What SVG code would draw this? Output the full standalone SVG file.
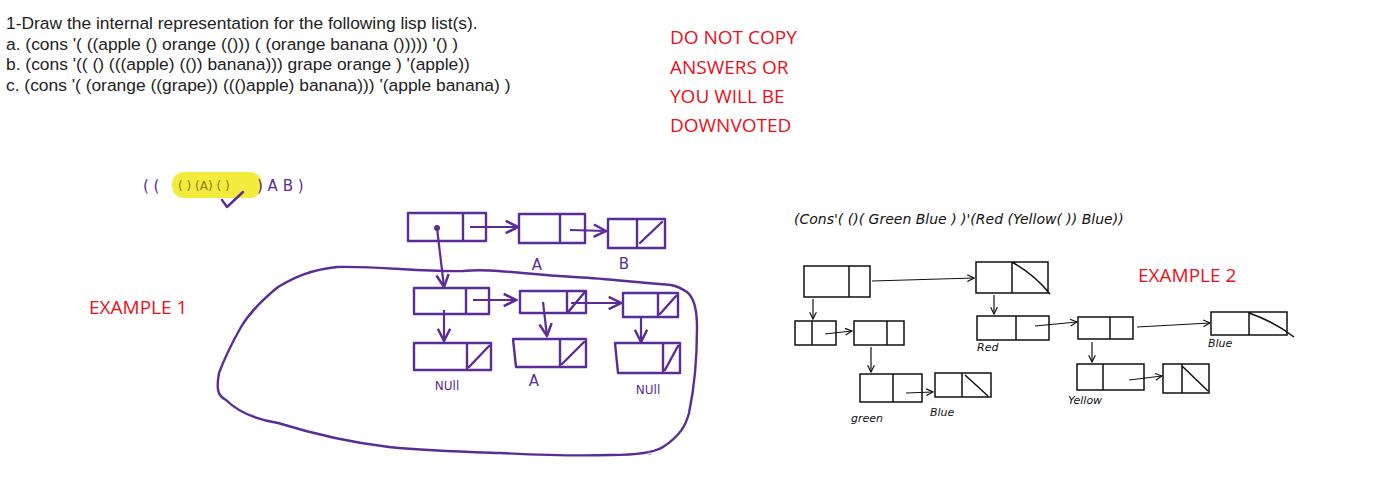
<svg xmlns="http://www.w3.org/2000/svg" width="1395" height="495" viewBox="0 0 1395 495">
<defs>
<marker id="ap" viewBox="0 0 10 10" refX="9" refY="5" markerWidth="7" markerHeight="7" orient="auto-start-reverse"><path d="M1,1 L9,5 L1,9" fill="none" stroke="#5a2d96" stroke-width="1.6"/></marker>
<marker id="ab" viewBox="0 0 10 10" refX="9" refY="5" markerWidth="7" markerHeight="7" orient="auto-start-reverse"><path d="M1,1 L9,5 L1,9" fill="none" stroke="#111" stroke-width="1.4"/></marker>
</defs>
<style>
.q{font-family:"Liberation Sans",Arial,sans-serif;font-size:17.4px;fill:#222}
.r{font-family:"Open Sans","Liberation Sans",sans-serif;font-size:19px;fill:#e8101a}
.p{fill:none;stroke:#5a2d96;stroke-width:2.4;stroke-linecap:round;stroke-linejoin:round}
.pa{fill:none;stroke:#5a2d96;stroke-width:2.2;marker-end:url(#ap)}
.pt{font-family:"DejaVu Sans",sans-serif;font-size:15px;fill:#5a2d96}
.b{fill:none;stroke:#111;stroke-width:1.5}
.ba{fill:none;stroke:#111;stroke-width:1.2;marker-end:url(#ab)}
.bt{font-family:"DejaVu Sans",sans-serif;font-size:11px;fill:#111;font-style:italic}
</style>
<rect width="1395" height="495" fill="#fff"/>
<g id="question">
<text class="q" x="6" y="29">1-Draw the internal representation for the following lisp list(s).</text>
<text class="q" x="6" y="50">a.  (cons '( ((apple () orange (())) ( (orange banana ()))))  '() )</text>
<text class="q" x="6" y="70">b.  (cons '(( () (((apple) (()) banana))) grape orange ) '(apple))</text>
<text class="q" x="6" y="91">c.  (cons '( (orange ((grape)) ((()apple) banana))) '(apple banana) )</text>
</g>
<g id="warning">
<text class="r" x="670" y="44">DO NOT COPY</text>
<text class="r" x="670" y="74">ANSWERS OR</text>
<text class="r" x="670" y="103">YOU WILL BE</text>
<text class="r" x="670" y="132">DOWNVOTED</text>
</g>
<text class="r" x="89" y="314">EXAMPLE 1</text>
<text class="r" x="1138" y="282">EXAMPLE 2</text>
<g id="example1-expr">
<rect x="172" y="172" width="90" height="26" rx="12" fill="#f3ec3c"/>
<text class="pt" x="143" y="191">( (</text>
<text class="pt" x="178" y="190" style="font-size:12px;fill:#8a7a20">( ) (A) ( )</text>
<text class="pt" x="257" y="191">)  A  B  )</text>
<path class="p" d="M222,200 L227,207 L243,192" stroke-width="2"/>
</g>
<g id="ex1-nodes">
<g id="n1"><path class="p" d="M408,213 H486 V241 H408 Z M463,213 V241"/><circle cx="437" cy="228" r="3" fill="#5a2d96"/></g>
<g id="n2"><path class="p" d="M519,214 H585 V243 H519 Z M560,214 V243"/></g>
<g id="n3"><path class="p" d="M608,219 H665 V248 H608 Z M637,219 V248 M640,243 L662,222"/></g>
<g id="n4"><path class="p" d="M414,288 H489 V314 H414 Z M466,288 V314"/></g>
<g id="n5"><path class="p" d="M520,291 H586 V313 H520 Z M567,291 V313 M569,311 L584,293"/></g>
<g id="n6"><path class="p" d="M623,293 H678 V317 H623 Z M658,293 V317 M660,314 L676,296"/></g>
<g id="n7"><path class="p" d="M414,343 H491 V370 H414 Z M467,343 V370 M469,367 L489,346"/></g>
<g id="n8"><path class="p" d="M513,339 H586 V367 H516 Z M560,339 V367 M562,364 L584,342"/></g>
<g id="n9"><path class="p" d="M615,343 H680 V373 H618 Z M663,343 V373 M665,370 L678,346"/></g>
<text class="pt" x="537" y="270" text-anchor="middle">A</text>
<text class="pt" x="624" y="269" text-anchor="middle">B</text>
<text class="pt" x="447" y="390" text-anchor="middle" style="font-size:12px">NUll</text>
<text class="pt" x="534" y="386" text-anchor="middle">A</text>
<text class="pt" x="648" y="394" text-anchor="middle" style="font-size:12px">NUll</text>
<path class="p" d="M671,285 C620,281 600,278 574,277 C520,274 490,268 463,271 C420,272 380,266 337,267 C310,270 295,277 278,287 C262,300 250,312 241,327 C228,350 222,365 219,373 C216,390 218,396 226,400 C240,414 260,420 278,423 C320,436 355,443 389,447 C430,451 470,452 500,453 C540,455 580,456 611,455 C640,455 655,452 663,447 C680,436 686,425 689,413 C695,385 697,350 697,327 C697,305 692,296 687,292 C681,288 676,286 671,285"/>
<text x="648" y="455" font-family="Liberation Sans,sans-serif" font-size="6" fill="#777">5</text>
</g>
<g id="ex1-connectors">
<path class="pa" d="M470,227 L518,227"/>
<path class="pa" d="M570,230 L606,231"/>
<path class="pa" d="M437,228 L444,287"/>
<path class="pa" d="M473,300 L516,300"/>
<path class="pa" d="M571,303 L621,303"/>
<path class="pa" d="M444,310 L444,341"/>
<path class="pa" d="M543,302 L547,336"/>
<path class="pa" d="M641,316 L641,342"/>
</g>
<g id="example2-expr">
<text x="794" y="224" font-family="DejaVu Sans,sans-serif" font-size="14" font-style="italic" fill="#111">(Cons'( ()( Green Blue ) )'(Red (Yellow( )) Blue))</text>
</g>
<g id="ex2-nodes">
<g id="m1"><path class="b" d="M804,266 H870 V297 H804 Z M849,266 V297"/></g>
<g id="m2"><path class="b" d="M976,262 H1048 V293 H976 Z M1012,262 V293 M1012,262 Q1035,275 1050,294"/></g>
<g id="m3"><path class="b" d="M795,321 H836 V345 H795 Z M812,321 V345"/></g>
<g id="m4"><path class="b" d="M854,321 H904 V345 H854 Z M887,321 V345"/></g>
<g id="m5"><path class="b" d="M860,374 H922 V402 H860 Z M893,374 V402"/></g>
<g id="m6"><path class="b" d="M935,373 H991 V397 H935 Z M962,373 V397 M965,375 L988,396"/></g>
<g id="m7"><path class="b" d="M977,316 H1049 V340 H977 Z M1016,316 V340"/></g>
<g id="m8"><path class="b" d="M1078,317 H1133 V339 H1078 Z M1110,317 V339"/></g>
<g id="m9"><path class="b" d="M1211,312 H1287 V335 H1211 Z M1249,312 V335 M1249,313 Q1275,322 1294,337"/></g>
<g id="m10"><path class="b" d="M1077,364 H1144 V390 H1077 Z M1103,364 V390"/></g>
<g id="m11"><path class="b" d="M1163,364 H1209 V393 H1163 Z M1182,364 V393 M1182,366 L1208,391"/></g>
<text class="bt" x="851" y="422">green</text>
<text class="bt" x="930" y="416">Blue</text>
<text class="bt" x="977" y="351">Red</text>
<text class="bt" x="1208" y="347">Blue</text>
<text class="bt" x="1068" y="404">Yellow</text>
</g>
<g id="ex2-connectors">
<path class="ba" d="M872,281 L974,278"/>
<path class="ba" d="M813,299 L813,319"/>
<path class="ba" d="M825,334 L852,331"/>
<path class="ba" d="M871,347 L871,372"/>
<path class="ba" d="M906,393 L933,392"/>
<path class="ba" d="M994,295 L994,314"/>
<path class="ba" d="M1035,326 L1077,322"/>
<path class="ba" d="M1137,327 L1210,323"/>
<path class="ba" d="M1092,342 L1092,362"/>
<path class="ba" d="M1129,380 L1162,376"/>
</g>
</svg>
